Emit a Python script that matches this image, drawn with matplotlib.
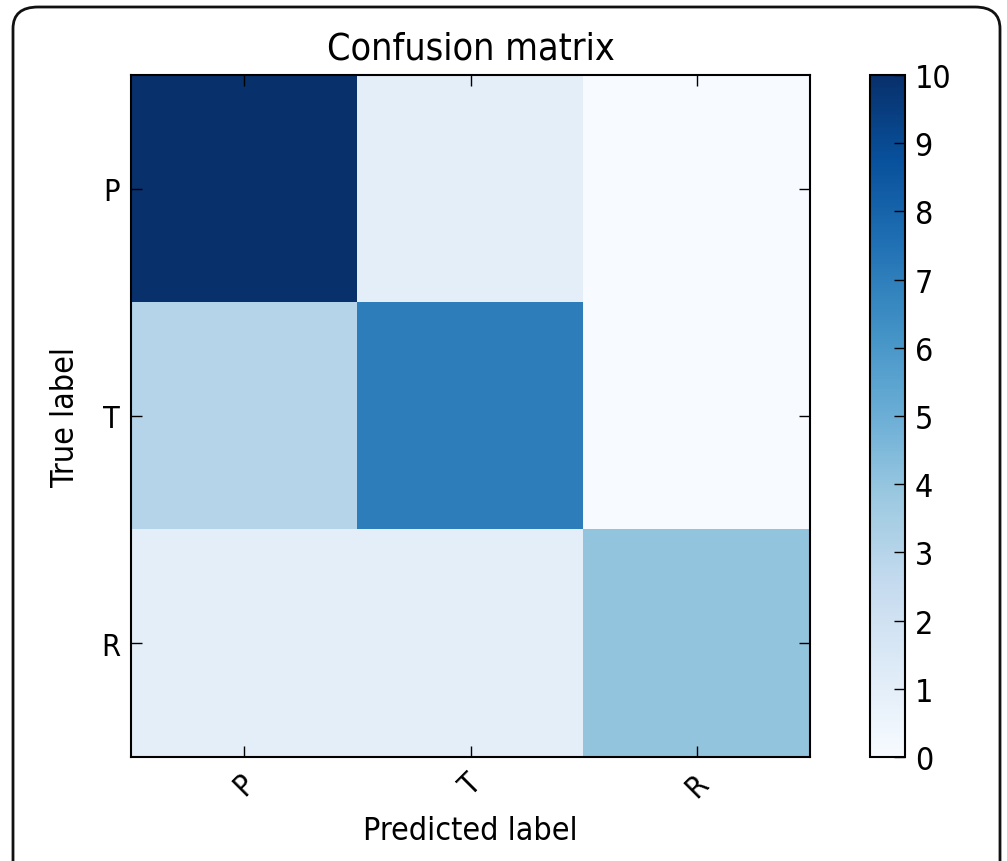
import matplotlib
matplotlib.use("Agg")
import matplotlib.pyplot as plt
from matplotlib.patches import FancyBboxPatch
import numpy as np

classes = ["P", "T", "R"]
cm = np.array([[10, 1, 0],
               [3, 7, 0],
               [1, 1, 4]])
cbar_ticks = [0, 1, 2, 3, 4, 5, 6, 7, 8, 9, 10]

plt.rcParams['font.family'] = ['DejaVu Sans']
plt.rcParams['font.stretch'] = 'condensed'
W, H = 1007, 862
fig = plt.figure(figsize=(W/100, H/100), dpi=100)

# rounded frame
frame = FancyBboxPatch((13/W, -0.05), (1000-13)/W, (H-8)/H + 0.05,
                       boxstyle="round,pad=0,rounding_size=0.025",
                       transform=fig.transFigure, fill=False,
                       edgecolor='#111111', linewidth=2.0, clip_on=False)
fig.patches.append(frame)

ax = fig.add_axes([131/W, 1-758/H, (810-131)/W, (758-76)/H])
im = ax.imshow(cm, interpolation='nearest', cmap='Blues', vmin=0, vmax=10, aspect='auto')
ax.set_title("Confusion matrix", fontsize=27, pad=12)
ax.set_xticks(range(len(classes)))
ax.set_xticklabels(classes, rotation=45, fontsize=22)
ax.set_yticks(range(len(classes)))
ax.set_yticklabels(classes, fontsize=22)
ax.tick_params(direction='in', length=8, width=1, top=True, right=True, pad=8)
ax.set_xlabel("Predicted label", fontsize=23, labelpad=9)
ax.set_ylabel("True label", fontsize=23, labelpad=14)
for s in ax.spines.values():
    s.set_linewidth(1.5)

cax = fig.add_axes([870/W, 1-758/H, (905-870)/W, (758-76)/H])
cb = fig.colorbar(im, cax=cax, ticks=cbar_ticks)
cb.ax.tick_params(direction='in', length=8, width=1, labelsize=23, pad=7)
cb.outline.set_linewidth(1.5)

fig.savefig("out.png", dpi=100)
